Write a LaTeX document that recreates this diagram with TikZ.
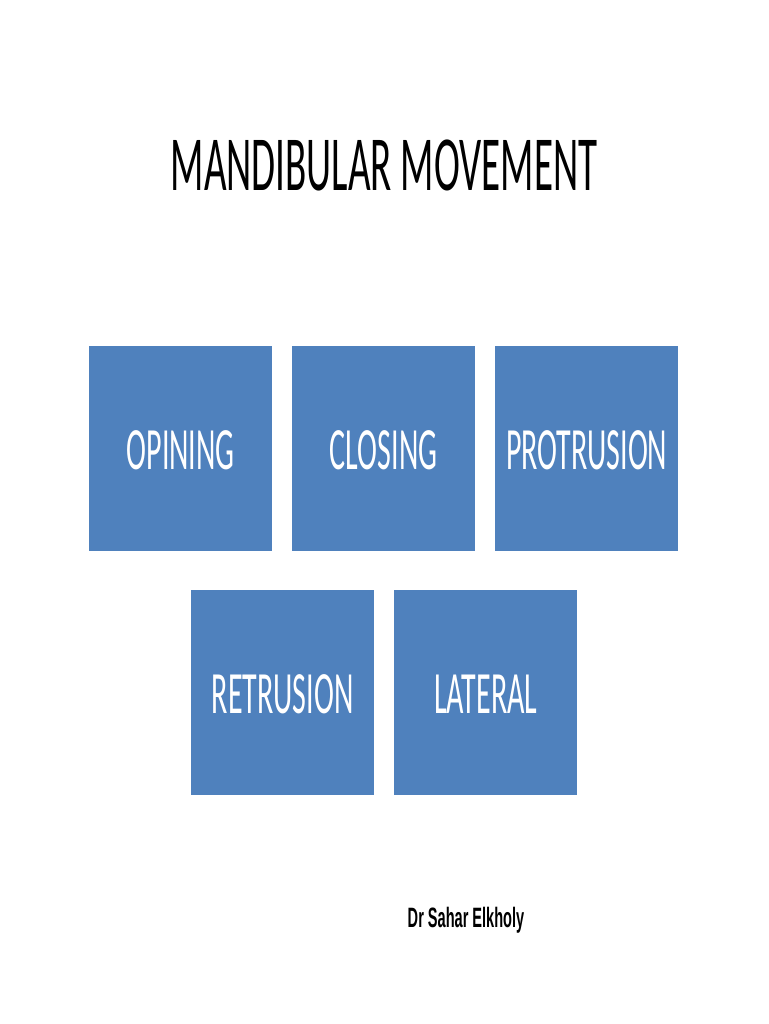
\documentclass[tikz,border=0pt]{standalone}
\usepackage{fontspec}
\setmainfont{Carlito}
\newfontfamily\arialf{Liberation Sans}
\definecolor{boxblue}{HTML}{4F81BD}
\begin{document}
\begin{tikzpicture}[x=1pt,y=-1pt,
  mbox/.style={fill=boxblue,draw=none,minimum width=183pt,minimum height=205pt,inner sep=0pt,anchor=north west},
  mlab/.style={text=white,font=\fontsize{60}{60}\selectfont,xscale=0.5}]
\useasboundingbox (0,0) rectangle (768,1024);
\fill[white] (0,0) rectangle (768,1024);
\node[font=\fontsize{78}{78}\selectfont,xscale=0.5] (title) at (384,165) {MANDIBULAR MOVEMENT};
\node[mbox] (b1) at (89,346) {};
\node[mbox] (b2) at (292,346) {};
\node[mbox] (b3) at (495,346) {};
\node[mbox] (b4) at (191,590) {};
\node[mbox] (b5) at (394,590) {};
\node[mlab] (t1) at ([yshift=-2pt]b1.center) {OPINING};
\node[mlab] (t2) at ([yshift=-2pt]b2.center) {CLOSING};
\node[mlab] (t3) at ([yshift=-2pt]b3.center) {PROTRUSION};
\node[mlab] (t4) at ([yshift=-2pt]b4.center) {RETRUSION};
\node[mlab] (t5) at ([yshift=-2pt]b5.center) {LATERAL};
\node[font=\arialf\bfseries\fontsize{28}{28}\selectfont,xscale=0.52] (auth) at (466,920) {Dr Sahar Elkholy};
\end{tikzpicture}
\end{document}
